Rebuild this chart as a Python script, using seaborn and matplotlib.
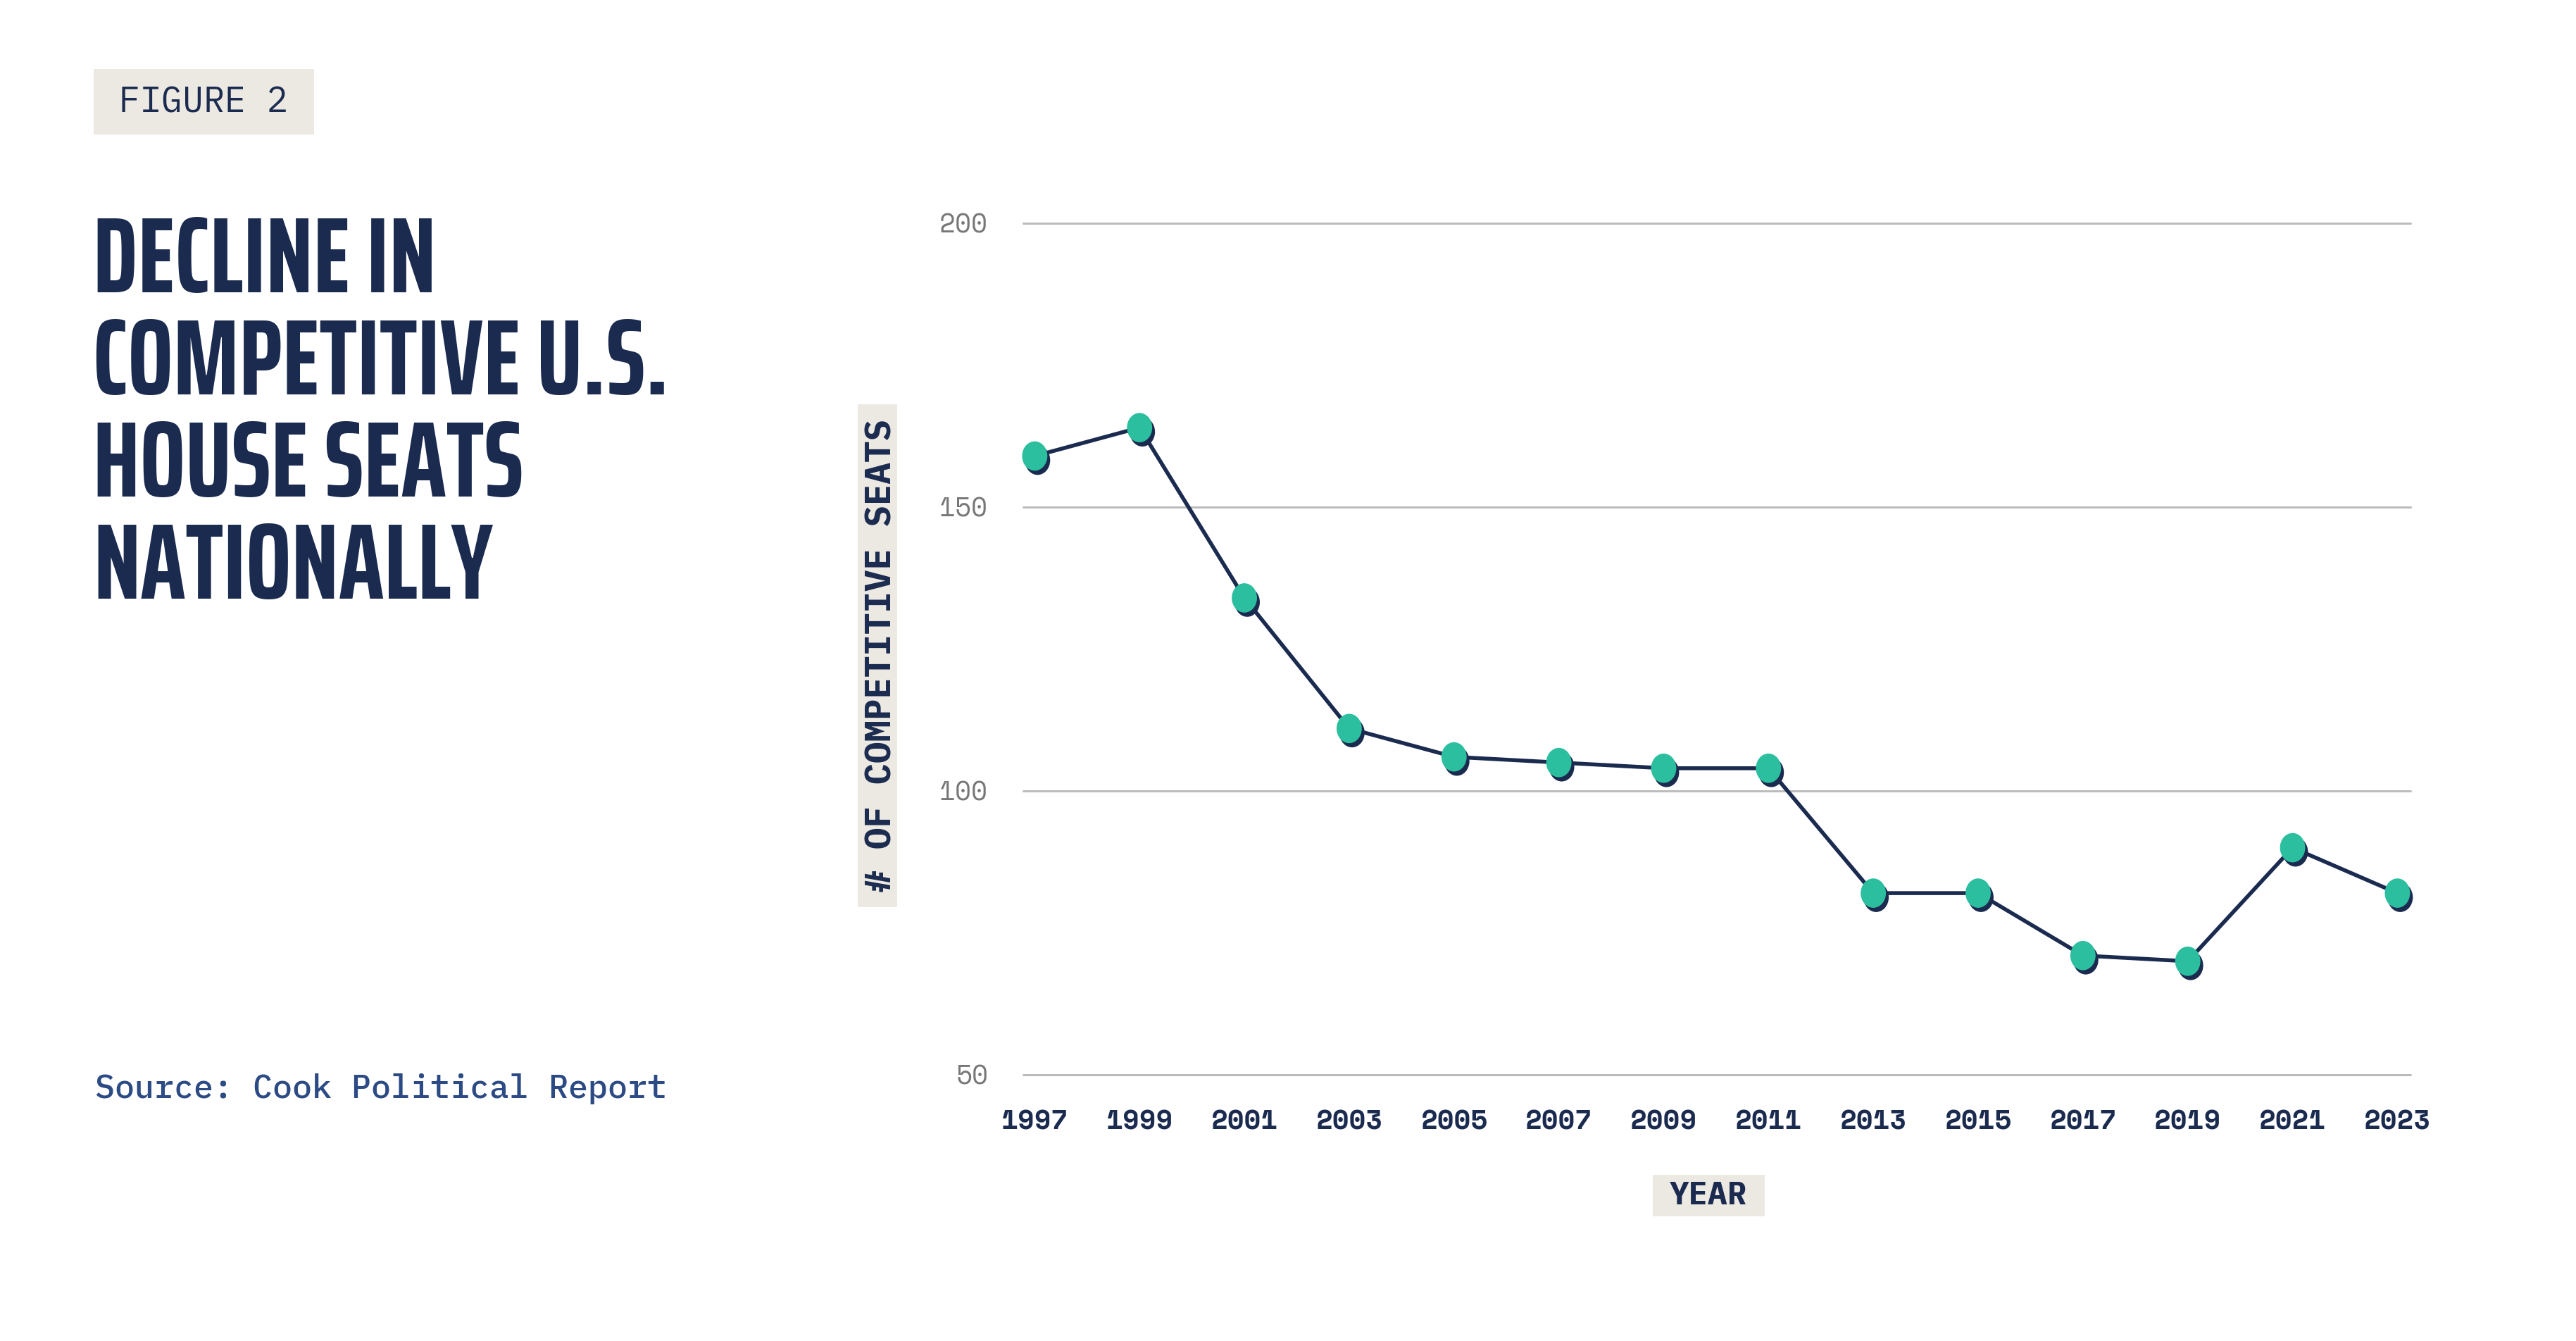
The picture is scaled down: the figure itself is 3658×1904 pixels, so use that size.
import numpy as np
import pandas as pd
import matplotlib
matplotlib.use("Agg")
import matplotlib.pyplot as plt
import seaborn as sns
from matplotlib.path import Path
from matplotlib.markers import MarkerStyle
from matplotlib.patches import Rectangle
from matplotlib import transforms


# -------------------------
# Data
# -------------------------
years = [1997, 1999, 2001, 2003, 2005, 2007, 2009, 2011, 2013, 2015, 2017, 2019, 2021, 2023]
seats = [159, 164, 134, 111, 106, 105, 104, 104, 82, 82, 71, 70, 90, 82]
y_ticks = [50, 100, 150, 200]

title_lines = ["DECLINE IN", "COMPETITIVE U.S.", "HOUSE SEATS", "NATIONALLY"]
figure_tag = "FIGURE 2"
source_text = "Source: Cook Political Report"
y_label = "# OF COMPETITIVE SEATS"
x_label = "YEAR"

# -------------------------
# Style
# -------------------------
NAVY = "#1b2b4f"
TEAL = "#2bbf9f"
BEIGE = "#ece8e2"
GRID = "#bcbcbc"
TICK_GREY = "#777777"
SOURCE_BLUE = "#2c4a84"

TITLE_FONT = "Saira ExtraCondensed"
MONO = "IBM Plex Mono"
TICK_MONO = "Space Mono"

W, H, DPI = 3658, 1904, 100


def fx(px):
    return px / W


def fy(py):
    return 1 - py / H


sns.set_theme(style="white")
plt.rcParams["font.family"] = [MONO, "DejaVu Sans"]

fig = plt.figure(figsize=(W / DPI, H / DPI), dpi=DPI)
fig.patch.set_facecolor("white")

# axes placed where the gridlines sit in the reference
ax = fig.add_axes([fx(1453), fy(1526), (3423 - 1453) / W, (1526 - 317) / H])

df = pd.DataFrame({"year": years, "seats": seats})

sns.lineplot(data=df, x="year", y="seats", color=NAVY, linewidth=4, ax=ax, zorder=2)

circ = Path.unit_circle()
ellipse = MarkerStyle(Path(circ.vertices * np.array([0.86, 1.0]), circ.codes))

# drop shadow under each point
shadow = transforms.offset_copy(ax.transData, fig=fig, x=4, y=-6, units="dots")
sns.scatterplot(data=df, x="year", y="seats", marker=ellipse, s=900, color=NAVY,
                edgecolor="none", linewidth=0, ax=ax, zorder=3, transform=shadow)
sns.scatterplot(data=df, x="year", y="seats", marker=ellipse, s=900, color=TEAL,
                edgecolor="none", linewidth=0, ax=ax, zorder=4)

for art in ax.lines + ax.collections:
    art.set_clip_on(False)

ax.set_xlim(1996.78, 2023.25)
ax.set_ylim(50, 200)
ax.set_xticks(years)
ax.set_xticklabels([str(y) for y in years])
ax.set_yticks(y_ticks)
ax.set_yticklabels([str(v) for v in y_ticks])
ax.set_xlabel("")
ax.set_ylabel("")

ax.grid(axis="y", color=GRID, linewidth=2.2)
ax.grid(axis="x", visible=False)
ax.set_axisbelow(True)
for gl in ax.get_ygridlines():
    gl.set_clip_on(False)
sns.despine(ax=ax, left=True, bottom=True)

ax.tick_params(axis="both", length=0)
ax.tick_params(axis="y", pad=36)
ax.tick_params(axis="x", pad=36)
for lab in ax.get_yticklabels():
    lab.set_fontfamily(TICK_MONO)
    lab.set_fontsize(27)
    lab.set_color(TICK_GREY)
for lab in ax.get_xticklabels():
    lab.set_fontfamily(TICK_MONO)
    lab.set_fontweight("bold")
    lab.set_fontsize(28)
    lab.set_color(NAVY)

# -------------------------
# Left-hand text block
# -------------------------
fig.patches.append(Rectangle((fx(133), fy(191)), (446 - 133) / W, (191 - 98) / H,
                             transform=fig.transFigure, facecolor=BEIGE, edgecolor="none"))
fig.text(fx(169), fy(145), figure_tag, fontsize=36, family=MONO, color=NAVY,
         ha="left", va="center")

for i, line in enumerate(title_lines):
    fig.text(fx(132), fy(415 + i * 145), line, fontsize=110, family=TITLE_FONT,
             weight=700, color=NAVY, ha="left", va="baseline")

fig.text(fx(135), fy(1559), source_text, fontsize=33.6, family=MONO, weight=500,
         color=SOURCE_BLUE, ha="left", va="baseline")

# -------------------------
# Axis labels with beige boxes
# -------------------------
fig.patches.append(Rectangle((fx(1218), fy(1288)), (1274 - 1218) / W, (1288 - 574) / H,
                             transform=fig.transFigure, facecolor=BEIGE, edgecolor="none"))
fig.text(fx(1251), fy(931), y_label, rotation=90, fontsize=36.5, family=MONO,
         weight="bold", color=NAVY, ha="center", va="center")

fig.patches.append(Rectangle((fx(2347), fy(1727)), (2506 - 2347) / W, (1727 - 1668) / H,
                             transform=fig.transFigure, facecolor=BEIGE, edgecolor="none"))
fig.text(fx(2426), fy(1698), x_label, fontsize=33, family=MONO, weight="bold",
         color=NAVY, ha="center", va="center")

fig.savefig("out.png", dpi=DPI, facecolor="white")
